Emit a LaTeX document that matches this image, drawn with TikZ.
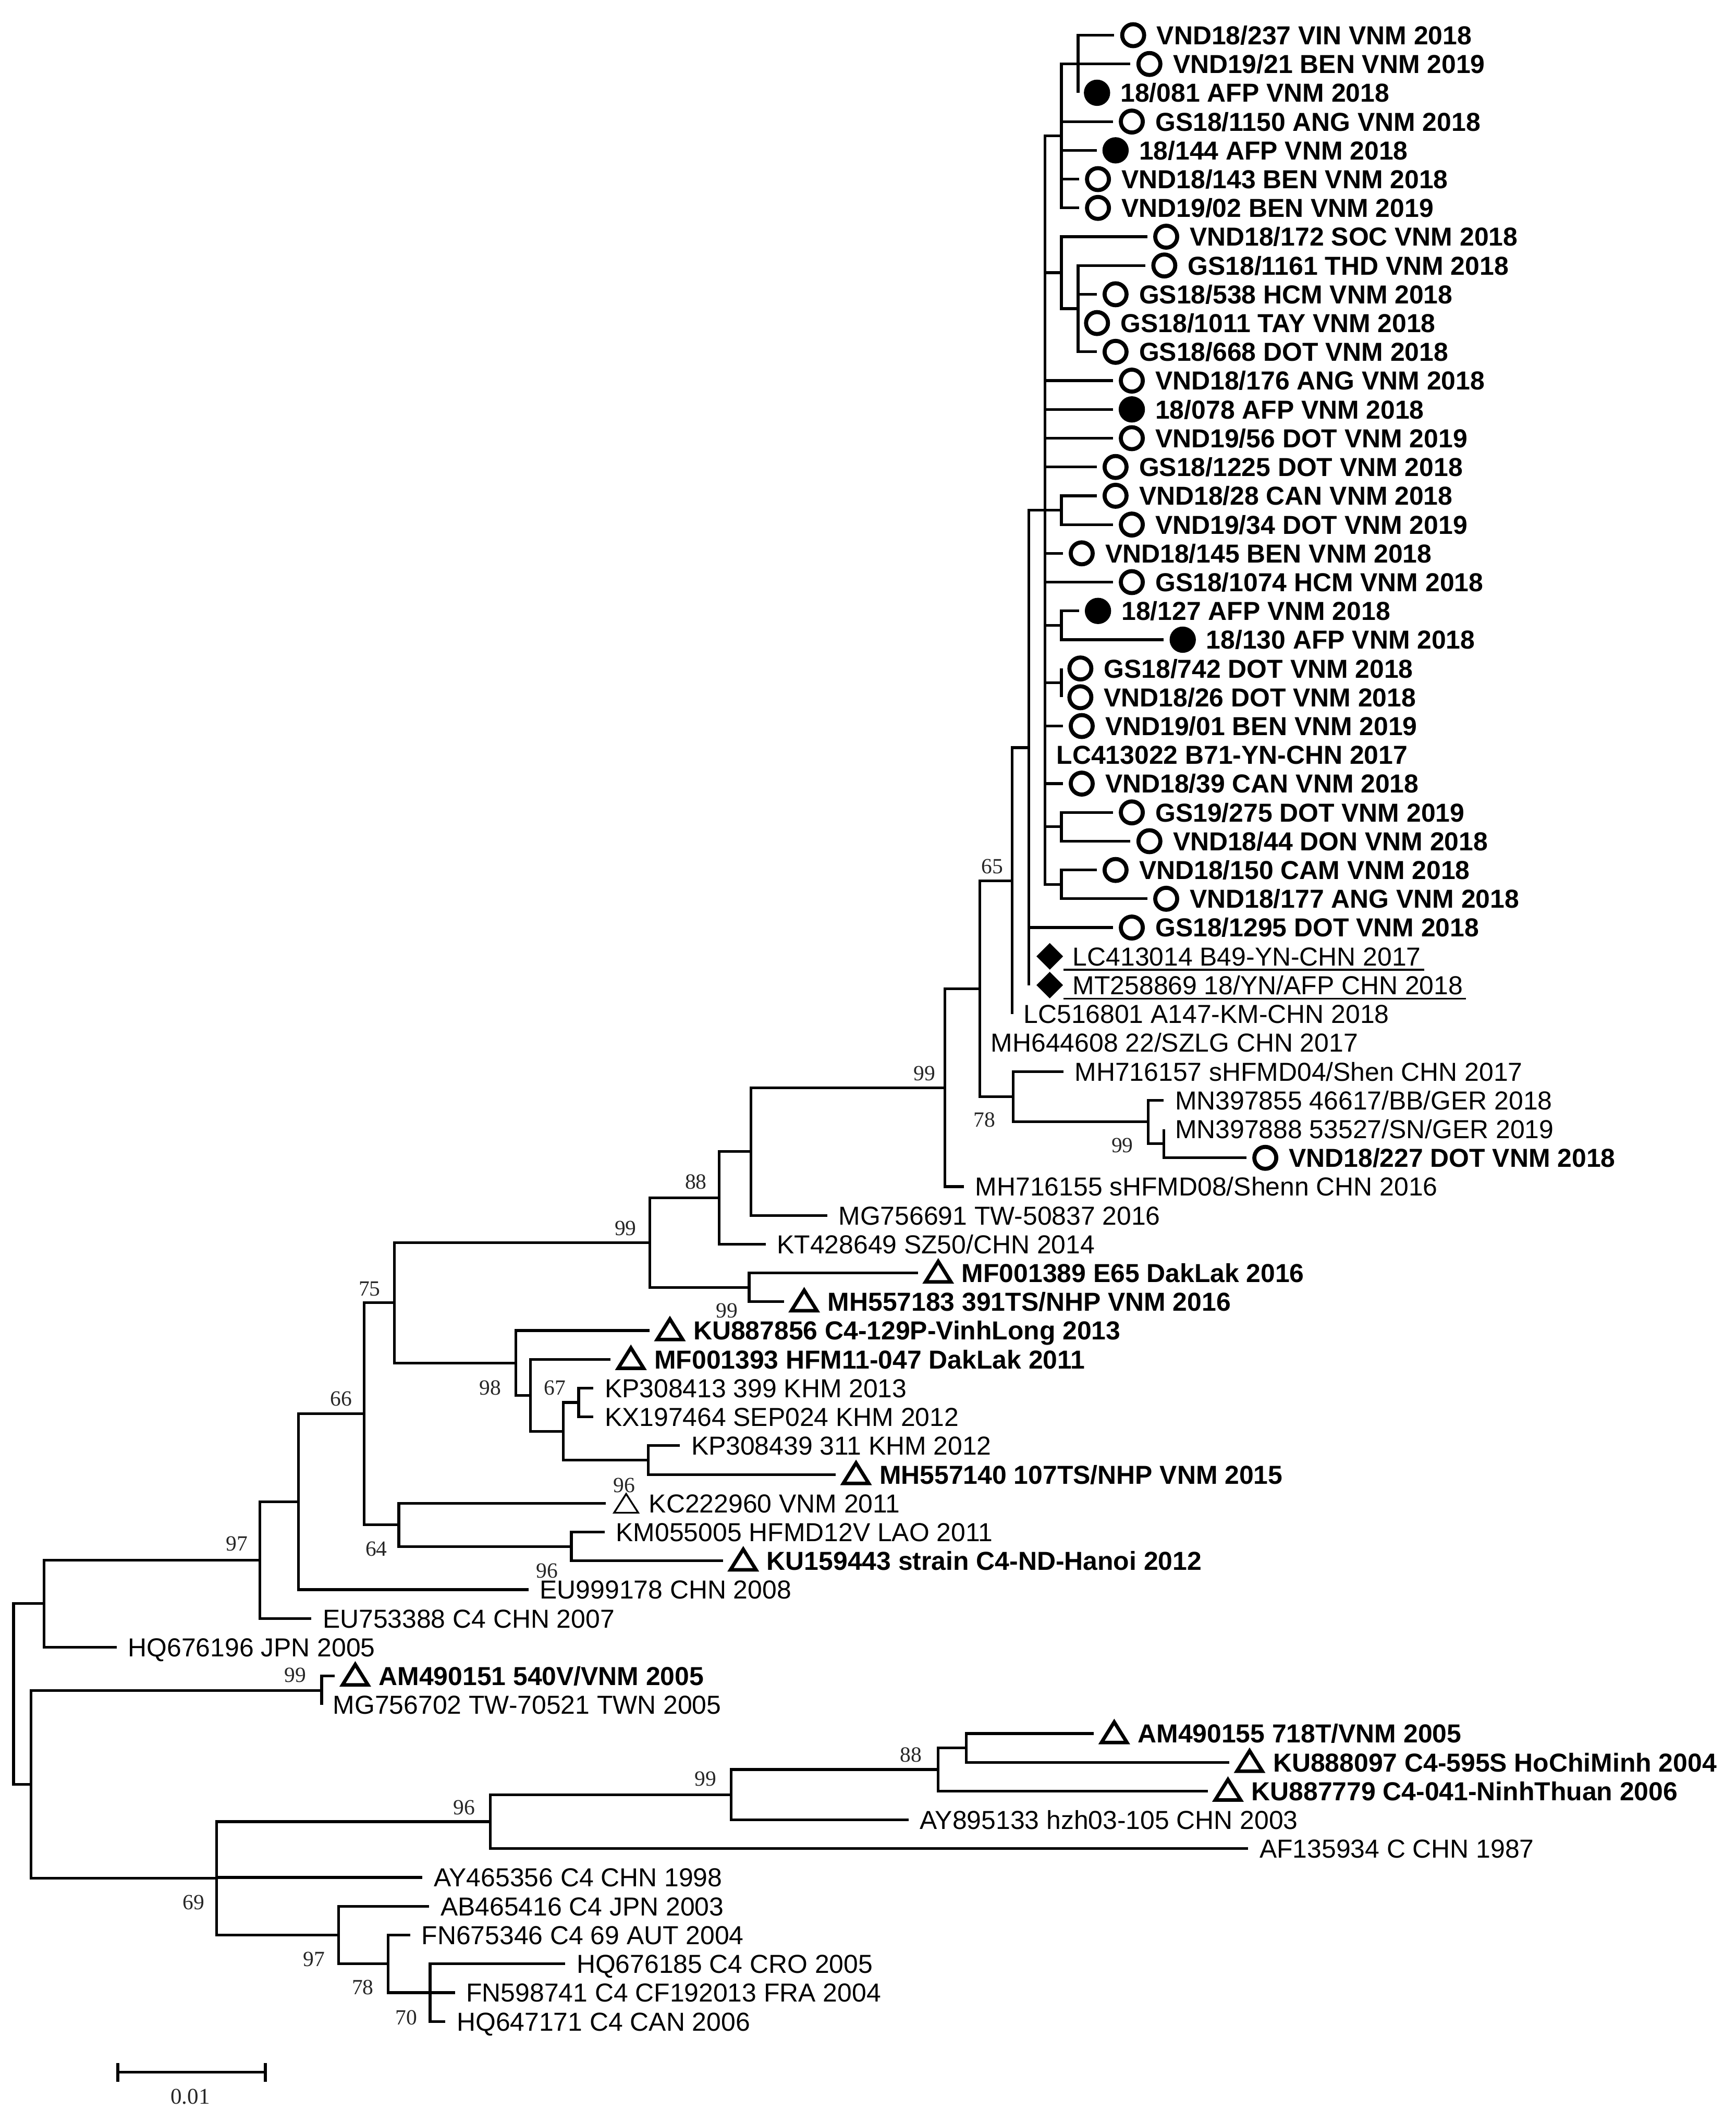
\documentclass[tikz,border=0pt]{standalone}
\usepackage{fontspec}
\setmainfont{Liberation Sans}
\newfontfamily\bsfont{Liberation Serif}
\usetikzlibrary{shapes.geometric}
\tikzset{
  br/.style={line width=1pt},
  lbl/.style={anchor=base west, inner sep=0pt, font=\fontsize{9.6}{10}\selectfont},
  lblb/.style={anchor=base west, inner sep=0pt, font=\fontsize{9.6}{10}\selectfont\bfseries},
  bsl/.style={inner sep=0pt, font=\bsfont\fontsize{8}{8}\selectfont, text=black!85},
  ocirc/.style={circle, draw, line width=1.5pt, minimum size=8.1pt, inner sep=0pt},
  fcirc/.style={circle, fill, minimum size=9.7pt, inner sep=0pt},
  dmd/.style={diamond, fill, minimum width=10pt, minimum height=10pt, inner sep=0pt},
}
\newcommand\leafO[4]{\coordinate (#1) at (#2,#3);
  \node[ocirc] (#1s) at (#2+14,#3) {};
  \node[lblb] (#1t) at (#2+31,#3+6.9) {#4};}
\newcommand\leafF[4]{\coordinate (#1) at (#2,#3);
  \node[fcirc] (#1s) at (#2+14,#3) {};
  \node[lblb] (#1t) at (#2+31,#3+6.9) {#4};}
\newcommand\leafD[4]{\coordinate (#1) at (#2,#3);
  \node[dmd] (#1s) at (#2+15.4,#3) {};
  \node[lbl] (#1t) at (#2+32,#3+6.9) {#4};
  \coordinate (#1u) at (#2+25.5,#3+10);
  \draw[line width=0.75pt] (#1u) -- ([xshift=1pt]#1u -| #1t.east);}
\newcommand\leafT[4]{\coordinate (#1) at (#2,#3);
  \coordinate (#1s) at (#2+15,#3);
  \draw[line width=1.3pt] (#2+5.6,#3+6.6) -- (#2+15,#3-8.5) -- (#2+24.4,#3+6.6) -- cycle;
  \node[lblb] (#1t) at (#2+32,#3+6.9) {#4};}
\newcommand\leafS[4]{\coordinate (#1) at (#2,#3);
  \coordinate (#1s) at (#2+15,#3);
  \draw[line width=0.65pt] (#2+6.1,#3+7) -- (#2+15,#3-6.9) -- (#2+23.9,#3+7) -- cycle;
  \node[lbl] (#1t) at (#2+31.5,#3+6.9) {#4};}
\newcommand\leafB[4]{\coordinate (#1) at (#2,#3);
  \node[lblb] (#1t) at (#2+8,#3+6.9) {#4};}
\newcommand\leafN[4]{\coordinate (#1) at (#2,#3);
  \node[lbl] (#1t) at (#2+8,#3+6.9) {#4};}
\begin{document}
\begin{tikzpicture}[x=0.5pt,y=-0.5pt]
\fill[white] (0,0) rectangle (1282,1568);
\useasboundingbox (0,0) rectangle (1282,1568);
% internal nodes
\coordinate (nz1a) at (796.3,47.26);
\coordinate (nz1) at (784,100.41);
\coordinate (nz2a) at (796.3,227.97);
\coordinate (nz2) at (784,201.40);
\coordinate (nz3) at (784,376.79);
\coordinate (nz4) at (784,461.83);
\coordinate (nz5) at (784,504.35);
\coordinate (nz6) at (784,610.65);
\coordinate (nz7) at (784,653.17);
\coordinate (nz) at (772,376.79);
\coordinate (ny) at (760,552.19);
\coordinate (n65) at (747.7,650.5);
\coordinate (n99e) at (859.6,844.51);
\coordinate (n99d) at (848,828.57);
\coordinate (n78) at (748.4,809.96);
\coordinate (nx) at (723.6,730.23);
\coordinate (n99c) at (697.8,803.3);
\coordinate (n99b) at (554.7,850.5);
\coordinate (n88) at (531.3,884.7);
\coordinate (nd) at (553.3,950.8);
\coordinate (n99a) at (480,917.8);
\coordinate (ng) at (427.4,1035.85);
\coordinate (nh) at (478.8,1078.37);
\coordinate (nf) at (416,1057.1);
\coordinate (ne) at (391.7,1030.5);
\coordinate (nc) at (381,1006.6);
\coordinate (n75) at (291.4,962.2);
\coordinate (ni) at (422,1142.15);
\coordinate (n64) at (294.6,1126.2);
\coordinate (n66) at (268.9,1044.2);
\coordinate (nb) at (220.5,1109.1);
\coordinate (n97) at (192,1152.2);
\coordinate (na) at (32.6,1184.4);
\coordinate (nk) at (237.6,1248.45);
\coordinate (np) at (713.7,1290.97);
\coordinate (n88b) at (693,1306.9);
\coordinate (n99f) at (540,1325.5);
\coordinate (nl) at (362,1345.45);
\coordinate (n70) at (317.7,1471.68);
\coordinate (n78b) at (286.7,1450.42);
\coordinate (nm) at (250,1429.16);
\coordinate (n69) at (159.9,1387.3);
\coordinate (nj) at (23,1317.9);
\coordinate (nroot) at (10,1251.15);
% leaves
\leafO{l1}{823}{26.00}{VND18/237 VIN VNM 2018}
\leafO{l2}{835}{47.26}{VND19/21 BEN VNM 2019}
\leafF{l3}{796.3}{68.52}{18/081 AFP VNM 2018}
\leafO{l4}{822}{89.78}{GS18/1150 ANG VNM 2018}
\leafF{l5}{810}{111.04}{18/144 AFP VNM 2018}
\leafO{l6}{797}{132.30}{VND18/143 BEN VNM 2018}
\leafO{l7}{797}{153.56}{VND19/02 BEN VNM 2019}
\leafO{l8}{847.4}{174.82}{VND18/172 SOC VNM 2018}
\leafO{l9}{846}{196.08}{GS18/1161 THD VNM 2018}
\leafO{l10}{810}{217.34}{GS18/538 HCM VNM 2018}
\leafO{l11}{796.3}{238.60}{GS18/1011 TAY VNM 2018}
\leafO{l12}{810}{259.86}{GS18/668 DOT VNM 2018}
\leafO{l13}{822}{281.12}{VND18/176 ANG VNM 2018}
\leafF{l14}{822}{302.38}{18/078 AFP VNM 2018}
\leafO{l15}{822}{323.64}{VND19/56 DOT VNM 2019}
\leafO{l16}{810}{344.90}{GS18/1225 DOT VNM 2018}
\leafO{l17}{810}{366.16}{VND18/28 CAN VNM 2018}
\leafO{l18}{822}{387.42}{VND19/34 DOT VNM 2019}
\leafO{l19}{785}{408.68}{VND18/145 BEN VNM 2018}
\leafO{l20}{822}{429.94}{GS18/1074 HCM VNM 2018}
\leafF{l21}{797}{451.20}{18/127 AFP VNM 2018}
\leafF{l22}{859.6}{472.46}{18/130 AFP VNM 2018}
\leafO{l23}{784}{493.72}{GS18/742 DOT VNM 2018}
\leafO{l24}{784}{514.98}{VND18/26 DOT VNM 2018}
\leafO{l25}{785}{536.24}{VND19/01 BEN VNM 2019}
\leafB{l26}{772}{557.50}{LC413022 B71-YN-CHN 2017}
\leafO{l27}{785}{578.76}{VND18/39 CAN VNM 2018}
\leafO{l28}{822}{600.02}{GS19/275 DOT VNM 2019}
\leafO{l29}{835}{621.28}{VND18/44 DON VNM 2018}
\leafO{l30}{810}{642.54}{VND18/150 CAM VNM 2018}
\leafO{l31}{847.4}{663.80}{VND18/177 ANG VNM 2018}
\leafO{l32}{822}{685.06}{GS18/1295 DOT VNM 2018}
\leafD{l33}{760}{706.32}{LC413014 B49-YN-CHN 2017}
\leafD{l34}{760}{727.58}{MT258869 18/YN/AFP CHN 2018}
\leafN{l35}{747.7}{748.84}{LC516801 A147-KM-CHN 2018}
\leafN{l36}{723.6}{770.10}{MH644608 22/SZLG CHN 2017}
\leafN{l37}{785.5}{791.36}{MH716157 sHFMD04/Shen CHN 2017}
\leafN{l38}{859.6}{812.62}{MN397855 46617/BB/GER 2018}
\leafN{l39}{859.6}{833.88}{MN397888 53527/SN/GER 2019}
\leafO{l40}{920.6}{855.14}{VND18/227 DOT VNM 2018}
\leafN{l41}{712}{876.40}{MH716155 sHFMD08/Shenn CHN 2016}
\leafN{l42}{611}{897.66}{MG756691 TW-50837 2016}
\leafN{l43}{565.5}{918.92}{KT428649 SZ50/CHN 2014}
\leafT{l44}{678}{940.18}{MF001389 E65 DakLak 2016}
\leafT{l45}{579}{961.44}{MH557183 391TS/NHP VNM 2016}
\leafT{l46}{479.8}{982.70}{KU887856 C4-129P-VinhLong 2013}
\leafT{l47}{451}{1003.96}{MF001393 HFM11-047 DakLak 2011}
\leafN{l48}{438.3}{1025.22}{KP308413 399 KHM 2013}
\leafN{l49}{438.3}{1046.48}{KX197464 SEP024 KHM 2012}
\leafN{l50}{502.2}{1067.74}{KP308439 311 KHM 2012}
\leafT{l51}{617.3}{1089.00}{MH557140 107TS/NHP VNM 2015}
\leafS{l52}{447.5}{1110.26}{KC222960 VNM 2011}
\leafN{l53}{446.6}{1131.52}{KM055005 HFMD12V LAO 2011}
\leafT{l54}{534}{1152.78}{KU159443 strain C4-ND-Hanoi 2012}
\leafN{l55}{390.4}{1174.04}{EU999178 CHN 2008}
\leafN{l56}{230}{1195.30}{EU753388 C4 CHN 2007}
\leafN{l57}{86.2}{1216.56}{HQ676196 JPN 2005}
\leafT{l58}{247.4}{1237.82}{AM490151 540V/VNM 2005}
\leafN{l59}{237.6}{1259.08}{MG756702 TW-70521 TWN 2005}
\leafT{l60}{808}{1280.34}{AM490155 718T/VNM 2005}
\leafT{l61}{908}{1301.60}{KU888097 C4-595S HoChiMinh 2004}
\leafT{l62}{892}{1322.86}{KU887779 C4-041-NinhThuan 2006}
\leafN{l63}{671}{1344.12}{AY895133 hzh03-105 CHN 2003}
\leafN{l64}{922}{1365.38}{AF135934 C CHN 1987}
\leafN{l65}{312}{1386.64}{AY465356 C4 CHN 1998}
\leafN{l66}{317}{1407.90}{AB465416 C4 JPN 2003}
\leafN{l67}{303}{1429.16}{FN675346 C4 69 AUT 2004}
\leafN{l68}{417.5}{1450.42}{HQ676185 C4 CRO 2005}
\leafN{l69}{336}{1471.68}{FN598741 C4 CF192013 FRA 2004}
\leafN{l70}{329}{1492.94}{HQ647171 C4 CAN 2006}
% branches
\draw[br] (nz1a) |- (l1) (nz1a) |- (l2) (nz1a) |- (l3);
\draw[br] (nz1) |- (nz1a) (nz1) |- (l4) (nz1) |- (l5) (nz1) |- (l6) (nz1) |- (l7);
\draw[br] (nz2a) |- (l9) (nz2a) |- (l10) (nz2a) |- (l11) (nz2a) |- (l12);
\draw[br] (nz2) |- (l8) (nz2) |- (nz2a);
\draw[br] (nz3) |- (l17) (nz3) |- (l18);
\draw[br] (nz4) |- (l21) (nz4) |- (l22);
\draw[br] (nz5) |- (l23) (nz5) |- (l24);
\draw[br] (nz6) |- (l28) (nz6) |- (l29);
\draw[br] (nz7) |- (l30) (nz7) |- (l31);
\draw[br] (nz) |- (nz1) (nz) |- (nz2) (nz) |- (l13) (nz) |- (l14) (nz) |- (l15) (nz) |- (l16)
  (nz) |- (nz3) (nz) |- (l19) (nz) |- (l20) (nz) |- (nz4) (nz) |- (nz5) (nz) |- (l25)
  (nz) |- (l26) (nz) |- (l27) (nz) |- (nz6) (nz) |- (nz7);
\draw[br] (ny) |- (nz) (ny) |- (l32) (ny) |- (l33) (ny) |- (l34);
\draw[br] (n65) |- (ny) (n65) |- (l35);
\draw[br] (n99e) |- (l39) (n99e) |- (l40);
\draw[br] (n99d) |- (l38) (n99d) |- (n99e);
\draw[br] (n78) |- (l37) (n78) |- (n99d);
\draw[br] (nx) |- (n65) (nx) |- (l36) (nx) |- (n78);
\draw[br] (n99c) |- (nx) (n99c) |- (l41);
\draw[br] (n99b) |- (n99c) (n99b) |- (l42);
\draw[br] (n88) |- (n99b) (n88) |- (l43);
\draw[br] (nd) |- (l44) (nd) |- (l45);
\draw[br] (n99a) |- (n88) (n99a) |- (nd);
\draw[br] (ng) |- (l48) (ng) |- (l49);
\draw[br] (nh) |- (l50) (nh) |- (l51);
\draw[br] (nf) |- (ng) (nf) |- (nh);
\draw[br] (ne) |- (l47) (ne) |- (nf);
\draw[br] (nc) |- (l46) (nc) |- (ne);
\draw[br] (n75) |- (n99a) (n75) |- (nc);
\draw[br] (ni) |- (l53) (ni) |- (l54);
\draw[br] (n64) |- (l52) (n64) |- (ni);
\draw[br] (n66) |- (n75) (n66) |- (n64);
\draw[br] (nb) |- (n66) (nb) |- (l55);
\draw[br] (n97) |- (nb) (n97) |- (l56);
\draw[br] (na) |- (n97) (na) |- (l57);
\draw[br] (nk) |- (l58) (nk) |- (l59);
\draw[br] (np) |- (l60) (np) |- (l61);
\draw[br] (n88b) |- (np) (n88b) |- (l62);
\draw[br] (n99f) |- (n88b) (n99f) |- (l63);
\draw[br] (nl) |- (n99f) (nl) |- (l64);
\draw[br] (n70) |- (l68) (n70) |- (l69) (n70) |- (l70);
\draw[br] (n78b) |- (l67) (n78b) |- (n70);
\draw[br] (nm) |- (l66) (nm) |- (n78b);
\draw[br] (n69) |- (nl) (n69) |- (l65) (n69) |- (nm);
\draw[br] (nj) |- (nk) (nj) |- (n69);
\draw[br] (nroot) |- (na) (nroot) |- (nj);
% bootstrap values
\node[bsl] (b1) at (733,640) {65};
\node[bsl] (b2) at (683,793) {99};
\node[bsl] (b3) at (727,827) {78};
\node[bsl] (b4) at (829,846) {99};
\node[bsl] (b5) at (514,873) {88};
\node[bsl] (b6) at (462,907) {99};
\node[bsl] (b7) at (273,952) {75};
\node[bsl] (b8) at (537,968) {99};
\node[bsl] (b9) at (362,1025) {98};
\node[bsl] (b10) at (410,1025) {67};
\node[bsl] (b11) at (252,1033) {66};
\node[bsl] (b12) at (461,1097) {96};
\node[bsl] (b13) at (175,1140) {97};
\node[bsl] (b14) at (278,1144) {64};
\node[bsl] (b15) at (404,1160) {96};
\node[bsl] (b16) at (218,1237) {99};
\node[bsl] (b17) at (673,1296) {88};
\node[bsl] (b18) at (521,1314) {99};
\node[bsl] (b19) at (343,1335) {96};
\node[bsl] (b20) at (143,1405) {69};
\node[bsl] (b21) at (232,1447) {97};
\node[bsl] (b22) at (268,1468) {78};
\node[bsl] (b23) at (300,1490) {70};
% scale bar
\coordinate (sb1) at (87,1530.5);
\coordinate (sb2) at (196,1530.5);
\draw[br] (sb1) -- (sb2);
\draw[br] (sb1) ++(0,-6.8) -- ++(0,13.7);
\draw[br] (sb2) ++(0,-6.8) -- ++(0,13.7);
\node[bsl, font=\bsfont\fontsize{8.3}{8.3}\selectfont] (sbl) at (140.5,1548.5) {0.01};
\end{tikzpicture}
\end{document}
